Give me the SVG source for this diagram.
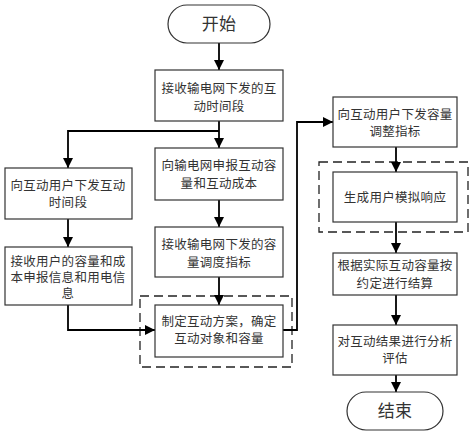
<svg xmlns="http://www.w3.org/2000/svg" width="474" height="445" viewBox="0 0 474 445">
<style>
.box{fill:#fff;stroke:#333;stroke-width:1.2}
.dash{fill:none;stroke:#222;stroke-width:1.3;stroke-dasharray:9,5}
.t{font-family:"Liberation Serif","Noto Sans CJK SC",serif;font-size:12.5px;fill:#333;text-anchor:middle;letter-spacing:0.3px}
.big{font-size:17px}
.c{fill:none;stroke:#000;stroke-width:1.8}
</style>
<defs>
<marker id="a" viewBox="0 0 10 10" refX="10" refY="5" markerWidth="10" markerHeight="10" markerUnits="userSpaceOnUse" orient="auto">
<path d="M0,0 L10,5 L0,10 z" fill="#000"/>
</marker>
</defs>
<rect x="140" y="296" width="152" height="71" class="dash"/>
<rect x="319" y="162" width="149" height="70" class="dash"/>
<g id="connectors">
<line x1="219" y1="43" x2="219" y2="70" class="c" marker-end="url(#a)"/>
<line x1="219" y1="121" x2="219" y2="148" class="c" marker-end="url(#a)"/>
<polyline points="219,131 68,131 68,168" class="c" marker-end="url(#a)"/>
<line x1="219" y1="200" x2="219" y2="227" class="c" marker-end="url(#a)"/>
<line x1="219" y1="277" x2="219" y2="305" class="c" marker-end="url(#a)"/>
<line x1="68" y1="219" x2="68" y2="247" class="c" marker-end="url(#a)"/>
<polyline points="68,305 68,330 155,330" class="c" marker-end="url(#a)"/>
<polyline points="283,330 297,330 297,122 333,122" class="c" marker-end="url(#a)"/>
<line x1="396" y1="147" x2="396" y2="172" class="c" marker-end="url(#a)"/>
<line x1="396" y1="222" x2="396" y2="253" class="c" marker-end="url(#a)"/>
<line x1="396" y1="295" x2="396" y2="325" class="c" marker-end="url(#a)"/>
<line x1="396" y1="375" x2="396" y2="392" class="c" marker-end="url(#a)"/>
</g>
<g id="start"><rect x="168" y="5" width="102" height="38" rx="19" class="box"/><text x="219" y="30" class="t big">开始</text></g>
<g id="n1"><rect x="155" y="70" width="128" height="51" class="box"/><text x="219" y="93" class="t">接收输电网下发的互</text><text x="219" y="111" class="t">动时间段</text></g>
<g id="n2"><rect x="155" y="148" width="128" height="52" class="box"/><text x="219" y="170" class="t">向输电网申报互动容</text><text x="219" y="188" class="t">量和互动成本</text></g>
<g id="n3"><rect x="155" y="227" width="128" height="50" class="box"/><text x="219" y="249" class="t">接收输电网下发的容</text><text x="219" y="267" class="t">量调度指标</text></g>
<g id="n4"><rect x="155" y="305" width="128" height="52" class="box"/><text x="219" y="326" class="t">制定互动方案，确定</text><text x="219" y="343" class="t">互动对象和容量</text></g>
<g id="l1"><rect x="5" y="168" width="127" height="51" class="box"/><text x="68" y="190" class="t">向互动用户下发互动</text><text x="68" y="207" class="t">时间段</text></g>
<g id="l2"><rect x="5" y="247" width="127" height="58" class="box"/><text x="68" y="266" class="t">接收用户的容量和成</text><text x="68" y="282" class="t">本申报信息和用电信</text><text x="68" y="298" class="t">息</text></g>
<g id="r1"><rect x="333" y="97" width="124" height="50" class="box"/><text x="395" y="119" class="t">向互动用户下发容量</text><text x="395" y="136" class="t">调整指标</text></g>
<g id="r2"><rect x="333" y="172" width="124" height="50" class="box"/><text x="395" y="202" class="t">生成用户模拟响应</text></g>
<g id="r3"><rect x="333" y="253" width="124" height="42" class="box"/><text x="395" y="270" class="t">根据实际互动容量按</text><text x="395" y="288" class="t">约定进行结算</text></g>
<g id="r4"><rect x="333" y="325" width="124" height="50" class="box"/><text x="395" y="346" class="t">对互动结果进行分析</text><text x="395" y="363" class="t">评估</text></g>
<g id="end"><rect x="347" y="392" width="96" height="38" rx="19" class="box"/><text x="395" y="417" class="t big">结束</text></g>
</svg>
